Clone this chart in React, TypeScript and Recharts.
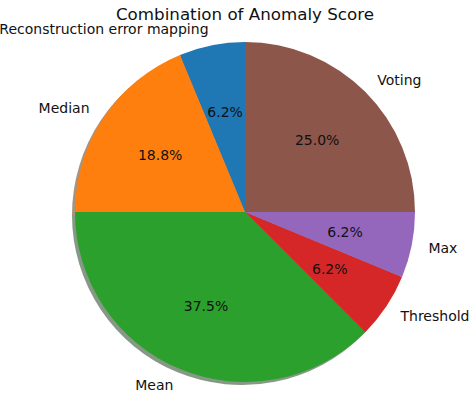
import React from 'react';
import { PieChart, Pie, Cell } from 'recharts';

const categories = ['Reconstruction error mapping', 'Median', 'Mean', 'Threshold', 'Max', 'Voting'];
const values = [6.25, 18.75, 37.5, 6.25, 6.25, 25.0];
const pctLabels = ['6.2%', '18.8%', '37.5%', '6.2%', '6.2%', '25.0%'];
const colors = ['#1f77b4', '#ff7f0e', '#2ca02c', '#d62728', '#9467bd', '#8c564b'];

const data = categories.map((name, i) => ({ name, value: values[i], pct: pctLabels[i] }));

const RAD = Math.PI / 180;
const CX = 240;
const CY = 207;
const R = 170;
const FONT = 'DejaVu Sans, sans-serif';

function shadowColor(hex: string) {
  const n = parseInt(hex.slice(1), 16);
  const ch = [(n >> 16) & 255, (n >> 8) & 255, n & 255].map((c) => Math.round(0.3 * c * 0.5 + 255 * 0.5));
  return `rgb(${ch[0]},${ch[1]},${ch[2]})`;
}

const renderLabel = (props: any) => {
  const { cx, cy, midAngle, outerRadius, index } = props;
  const lx = cx + outerRadius * 1.1 * Math.cos(-midAngle * RAD);
  const ly = cy + outerRadius * 1.1 * Math.sin(-midAngle * RAD);
  const px = cx + outerRadius * 0.6 * Math.cos(-midAngle * RAD);
  const py = cy + outerRadius * 0.6 * Math.sin(-midAngle * RAD);
  return (
    <g>
      <text x={lx} y={ly} textAnchor={lx > cx ? 'start' : 'end'} dominantBaseline="central" fontFamily={FONT} fontSize={14} fill="#111">
        {categories[index]}
      </text>
      <text x={px} y={py} textAnchor="middle" dominantBaseline="central" fontFamily={FONT} fontSize={14} fill="#111">
        {pctLabels[index]}
      </text>
    </g>
  );
};

export default function App() {
  return (
    <div style={{ position: 'absolute', left: 0, top: 0, width: 474, height: 395, background: '#fff' }}>
      <div
        style={{
          position: 'absolute',
          left: 0,
          width: 474,
          top: 1,
          textAlign: 'center',
          paddingLeft: 16,
          boxSizing: 'border-box',
          fontFamily: FONT,
          fontSize: 16.7,
          color: '#111',
          lineHeight: '26px',
        }}
      >
        Combination of Anomaly Score
      </div>
      <PieChart width={474} height={395}>
        <Pie
          data={data}
          dataKey="value"
          cx={CX - 3}
          cy={CY + 3}
          outerRadius={R}
          startAngle={90}
          endAngle={450}
          stroke="none"
          isAnimationActive={false}
          label={false}
          labelLine={false}
        >
          {data.map((d, i) => (
            <Cell key={`s${i}`} fill={shadowColor(colors[i])} />
          ))}
        </Pie>
        <Pie
          data={data}
          dataKey="value"
          cx={CX}
          cy={CY}
          outerRadius={R}
          startAngle={90}
          endAngle={450}
          stroke="none"
          isAnimationActive={false}
          label={renderLabel}
          labelLine={false}
        >
          {data.map((d, i) => (
            <Cell key={`c${i}`} fill={colors[i]} />
          ))}
        </Pie>
      </PieChart>
    </div>
  );
}
